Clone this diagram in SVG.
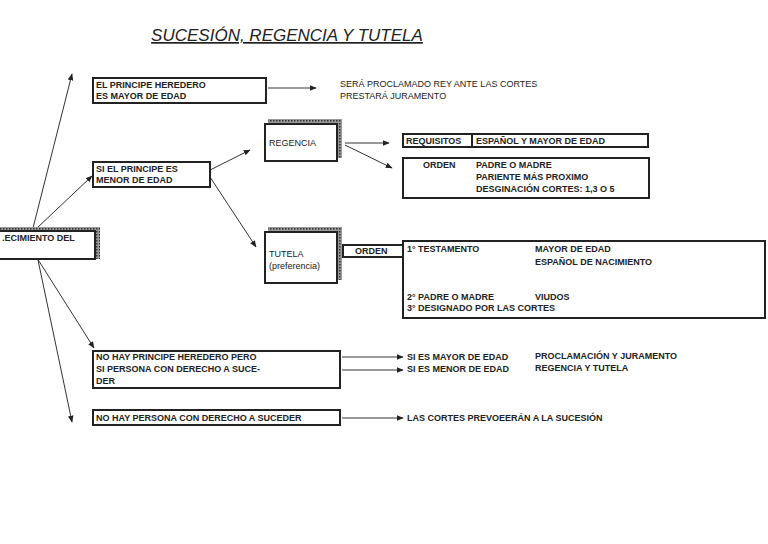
<svg xmlns="http://www.w3.org/2000/svg" width="768" height="544" viewBox="0 0 768 544">
<defs>
<marker id="ah" viewBox="0 0 10 10" refX="9" refY="5" markerWidth="7" markerHeight="7" orient="auto" markerUnits="userSpaceOnUse"><path d="M0,1 L10,5 L0,9 z" fill="#222"/></marker>
<pattern id="sh" width="3" height="3" patternUnits="userSpaceOnUse"><rect width="3" height="3" fill="#999"/><rect width="1.5" height="1.5" fill="#333"/></pattern>
</defs>
<style>
text{font-family:"Liberation Sans",Arial,sans-serif;font-size:9px;font-weight:bold;fill:#222}
.n{font-weight:normal}
.b{fill:#fff;stroke:#222;stroke-width:2}
.c line{stroke:#333;stroke-width:1;marker-end:url(#ah)}
</style>
<rect width="768" height="544" fill="#fff"/>
<text x="287" y="41" text-anchor="middle" style="font-size:17px;font-style:italic;font-weight:normal;text-decoration:underline">SUCESIÓN, REGENCIA Y TUTELA</text>
<g class="c">
<line x1="33" y1="228" x2="72" y2="74"/>
<line x1="37" y1="228" x2="92" y2="176"/>
<line x1="37" y1="258" x2="94" y2="348"/>
<line x1="38" y1="260" x2="72" y2="422"/>
<line x1="268" y1="88" x2="316" y2="88"/>
<line x1="210" y1="170" x2="250" y2="150"/>
<line x1="210" y1="177" x2="256" y2="247"/>
<line x1="345" y1="143" x2="389" y2="143"/>
<line x1="345" y1="145" x2="392" y2="168"/>
<line x1="342" y1="357" x2="403" y2="357"/>
<line x1="342" y1="370" x2="403" y2="370"/>
<line x1="342" y1="418" x2="403" y2="418"/>
</g>
<g id="origen">
<rect x="0" y="227" width="100" height="5" fill="url(#sh)"/><rect x="95" y="227" width="5" height="32" fill="url(#sh)"/>
<rect class="b" x="-2" y="231" width="97" height="28"/>
<text x="2" y="241">.ECIMIENTO DEL</text>
</g>
<g id="mayor"><rect class="b" x="93" y="78" width="173" height="25"/><text x="96" y="88">EL PRINCIPE HEREDERO</text><text x="96" y="99">ES MAYOR DE EDAD</text></g>
<g id="proclamado"><text x="340" y="87" class="n">SERÁ PROCLAMADO REY ANTE LAS CORTES</text><text x="340" y="99" class="n">PRESTARÁ JURAMENTO</text></g>
<g id="menor"><rect class="b" x="93" y="162" width="117" height="25"/><text x="96" y="172">SI EL PRINCIPE ES</text><text x="96" y="183">MENOR DE EDAD</text></g>
<g id="regencia">
<rect x="268" y="119" width="74" height="6" fill="url(#sh)"/><rect x="336" y="119" width="6" height="39" fill="url(#sh)"/>
<rect class="b" x="265" y="124" width="72" height="37"/><text x="269" y="146" class="n">REGENCIA</text>
</g>
<g id="requisitos"><rect class="b" x="403" y="134" width="245" height="13"/><line x1="472" y1="134" x2="472" y2="147" stroke="#222" stroke-width="2"/><text x="406" y="144">REQUISITOS</text><text x="476" y="144">ESPAÑOL Y MAYOR DE EDAD</text></g>
<g id="orden-regencia"><rect class="b" x="403" y="158" width="246" height="40"/><text x="423" y="168">ORDEN</text><text x="476" y="168">PADRE O MADRE</text><text x="476" y="180">PARIENTE MÁS PROXIMO</text><text x="476" y="192">DESGINACIÓN CORTES: 1,3 O 5</text></g>
<g id="tutela">
<rect x="268" y="227" width="74" height="6" fill="url(#sh)"/><rect x="336" y="227" width="6" height="53" fill="url(#sh)"/>
<rect class="b" x="265" y="232" width="72" height="51"/><text x="269" y="257" class="n">TUTELA</text><text x="269" y="269" class="n">(preferencia)</text>
</g>
<g id="orden-tutela"><rect class="b" x="343" y="245" width="60" height="12"/><text x="355" y="254">ORDEN</text></g>
<g id="tutela-lista"><rect class="b" x="403" y="241" width="362" height="77"/>
<text x="407" y="252">1° TESTAMENTO</text><text x="535" y="252">MAYOR DE EDAD</text><text x="535" y="265">ESPAÑOL DE NACIMIENTO</text>
<text x="407" y="300">2° PADRE O MADRE</text><text x="535" y="300">VIUDOS</text><text x="407" y="311">3° DESIGNADO POR LAS CORTES</text></g>
<g id="nohay"><rect class="b" x="93" y="351" width="247" height="37"/><text x="96" y="360">NO HAY PRINCIPE HEREDERO PERO</text><text x="96" y="372">SI PERSONA CON DERECHO A SUCE-</text><text x="96" y="384">DER</text></g>
<g id="casos"><text x="407" y="360">SI ES MAYOR  DE EDAD</text><text x="407" y="372">SI ES MENOR DE EDAD</text><text x="535" y="359">PROCLAMACIÓN Y JURAMENTO</text><text x="535" y="371">REGENCIA Y TUTELA</text></g>
<g id="nopersona"><rect class="b" x="93" y="410" width="247" height="15"/><text x="96" y="421">NO HAY PERSONA CON DERECHO A SUCEDER</text></g>
<g id="cortes"><text x="407" y="421">LAS CORTES PREVOEERÁN A LA SUCESIÓN</text></g>
</svg>
